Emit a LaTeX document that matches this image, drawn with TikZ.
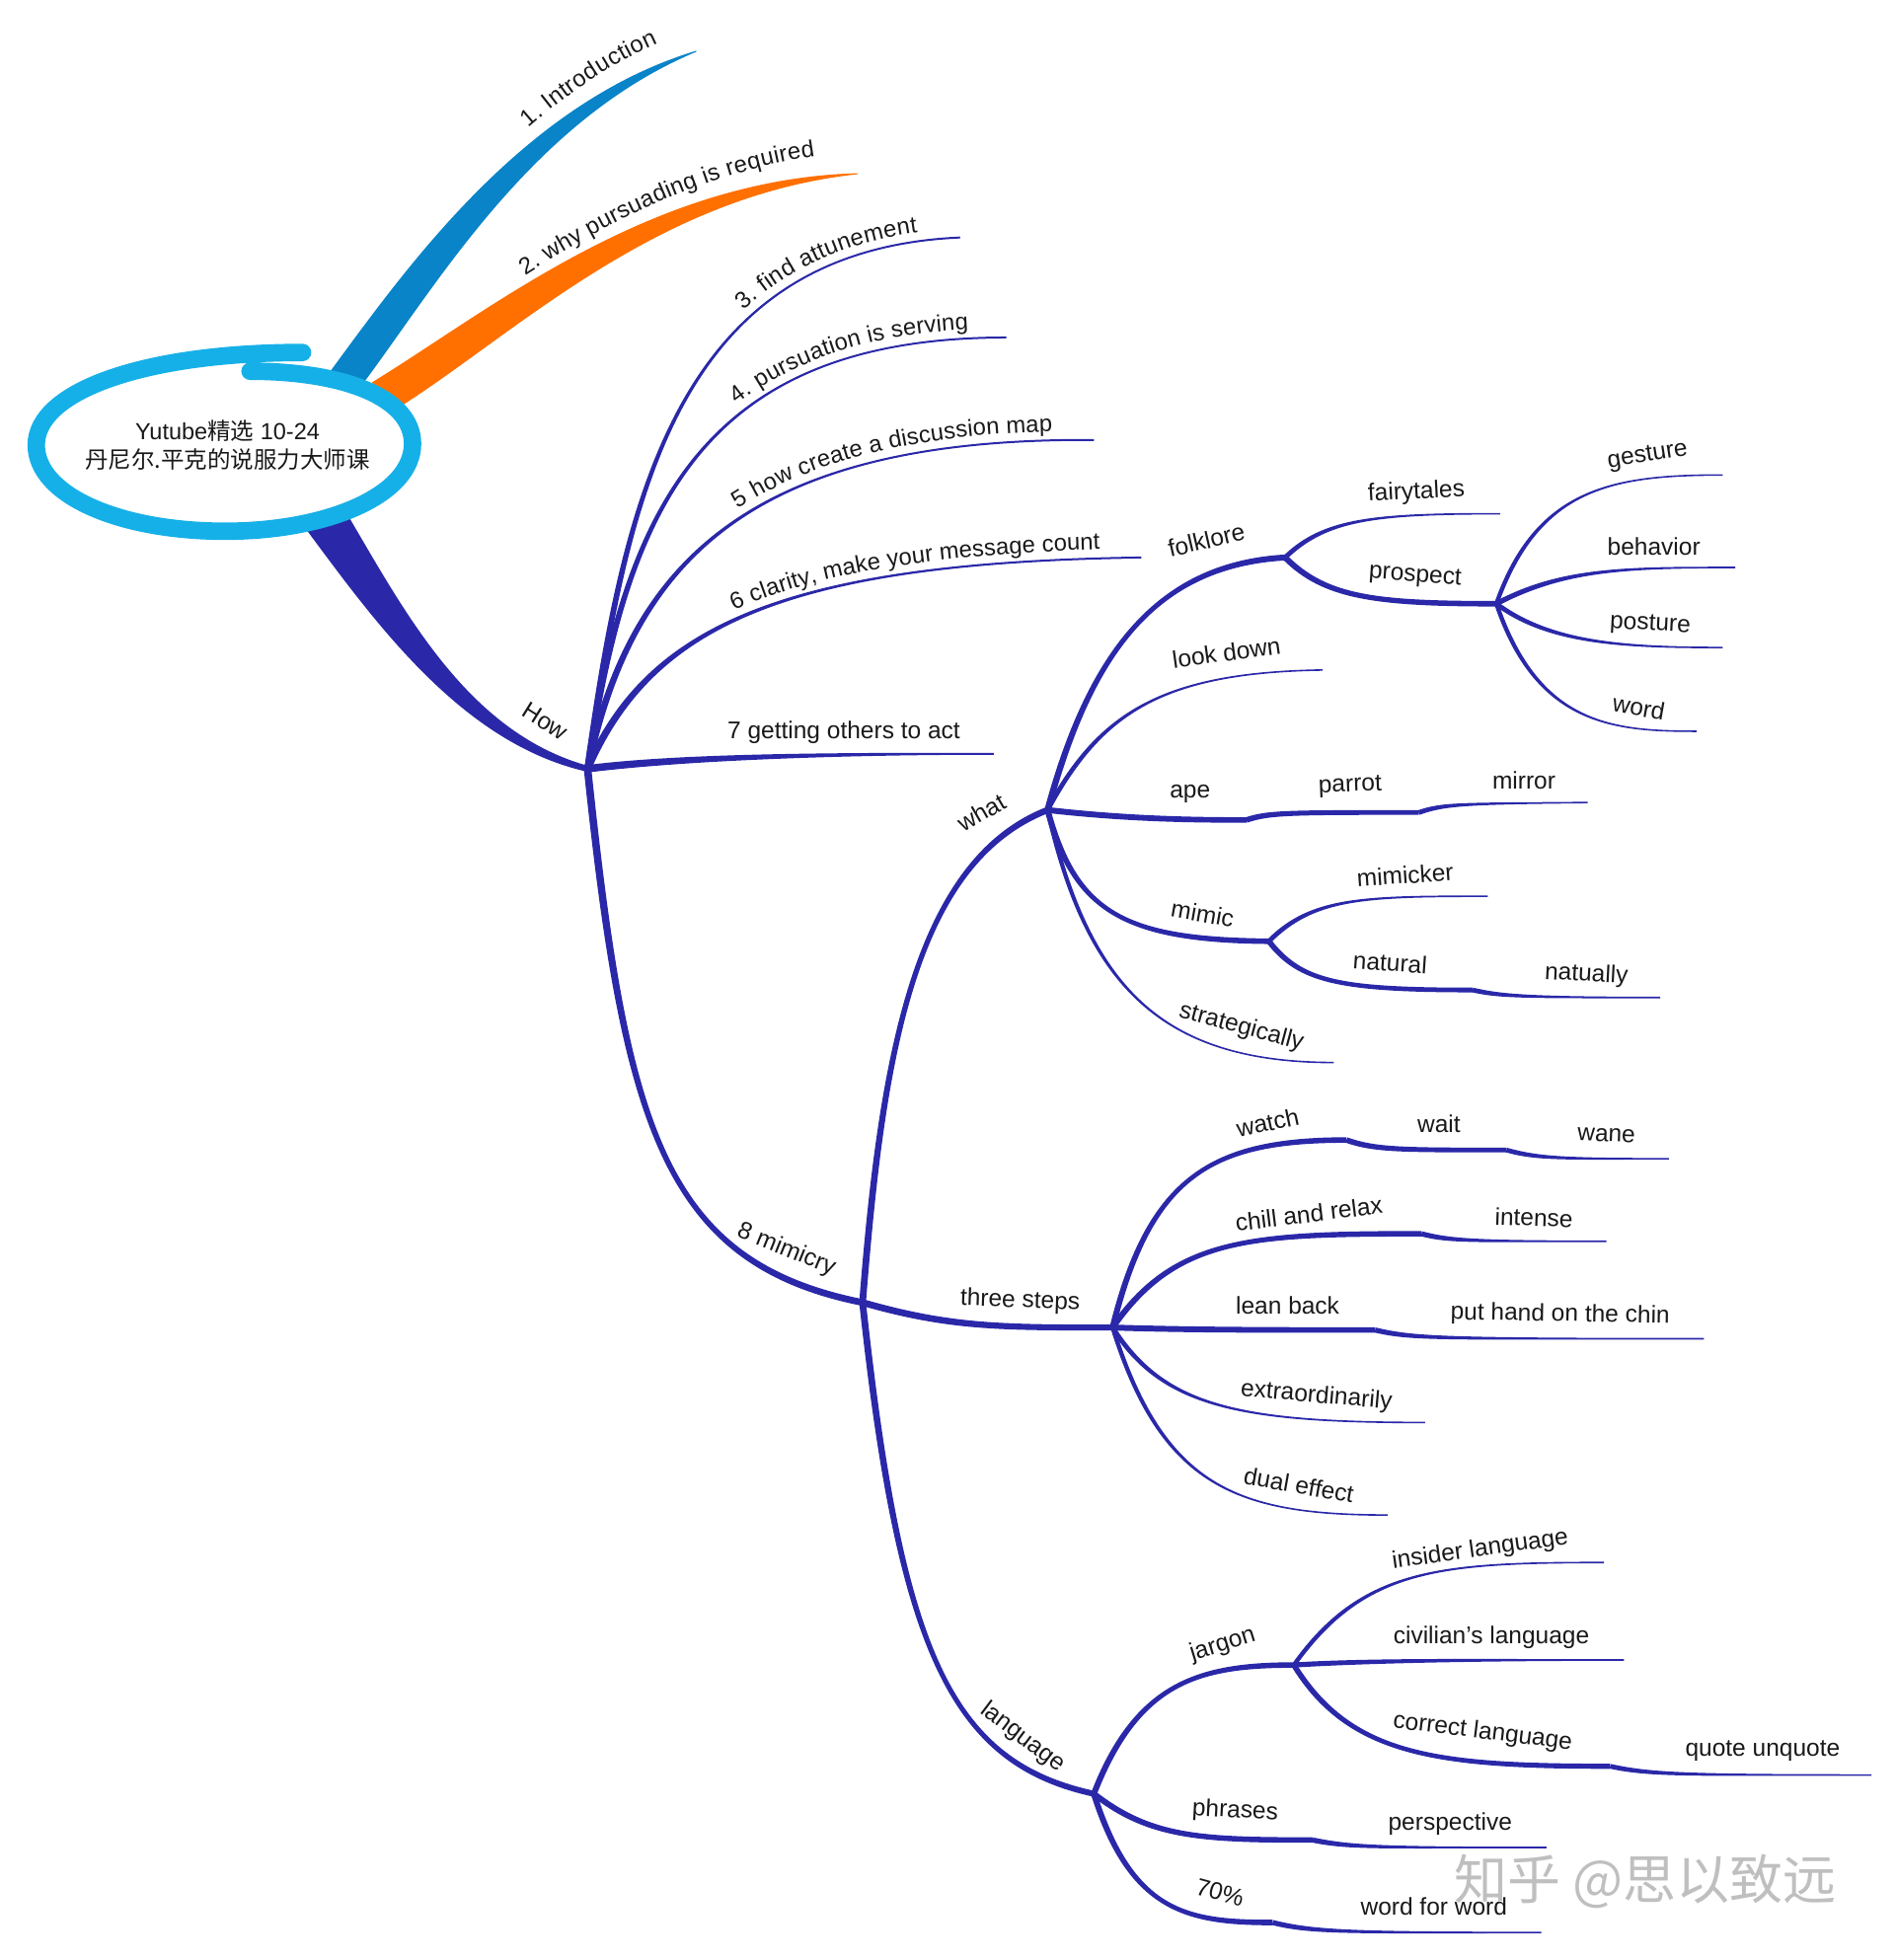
\documentclass[tikz,border=0pt]{standalone}
\usepackage{fontspec}
\setmainfont{Liberation Sans}
\newfontfamily\cjk{Noto Sans CJK SC}
\usetikzlibrary{calc,decorations.text}
\definecolor{dblue}{RGB}{42,40,168}
\definecolor{cblue}{RGB}{10,132,200}
\definecolor{orng}{RGB}{255,112,0}
\definecolor{ringc}{RGB}{22,176,232}
\definecolor{ink}{RGB}{25,25,25}
\definecolor{wmark}{RGB}{180,180,180}
\newcommand\lblfont{\fontsize{24.5}{29}\selectfont}
\newcommand\crvfont{\fontsize{23.8}{29}\selectfont}
% tapered branch: #1 colour, #2 start, #3 ctrl1, #4 ctrl2, #5 end, #6 half width at start, #7 half width at end
\newcommand\tbr[7]{\fill[#1] ($(#2)!#6!90:(#3)$) .. controls ($(#3)!#6!-90:(#2)$) and ($(#4)!#7!90:(#5)$) .. ($(#5)!#7!-90:(#4)$) -- ($(#5)!#7!90:(#4)$) .. controls ($(#4)!#7!-90:(#5)$) and ($(#3)!#6!90:(#2)$) .. ($(#2)!#6!-90:(#3)$) -- cycle;}
% thick tapered branch with half widths at start, both controls and end: #6 #7 #8 #9
\newcommand\tbrx[9]{\fill[#1] ($(#2)!#6!90:(#3)$) .. controls ($(#3)!#7!-90:(#2)$) and ($(#4)!#8!90:(#5)$) .. ($(#5)!#9!-90:(#4)$) -- ($(#5)!#9!90:(#4)$) .. controls ($(#4)!#8!-90:(#5)$) and ($(#3)!#7!90:(#2)$) .. ($(#2)!#6!-90:(#3)$) -- cycle;}
\begin{document}
\begin{tikzpicture}[x=1.2665pt,y=-1.2665pt,
  lbl/.style={font=\lblfont, text=ink, inner sep=0pt},
  curvlbl/.style={decorate, decoration={text along path, text={|\crvfont\color{ink}|#1}}}]
\useasboundingbox (0,0) rectangle (1516,1568);
% ---------- coordinates ----------
\coordinate (b1s) at (275,305); \coordinate (b1e) at (557,41);
\coordinate (b2s) at (305,318); \coordinate (b2e) at (686,139);
\coordinate (hs) at (258,412);  \coordinate (how) at (470,615);
\coordinate (e3) at (768,190); \coordinate (e4) at (805,270);
\coordinate (e5) at (875,352); \coordinate (e6) at (913,446);
\coordinate (e7) at (795,603);
\coordinate (mim) at (690,1042);
\coordinate (what) at (838,648); \coordinate (three) at (890,1062); \coordinate (lang) at (875,1435);
\coordinate (folk) at (1028,446); \coordinate (fairy) at (1200,411); \coordinate (prosp) at (1197,483);
\coordinate (gest) at (1378,380); \coordinate (behav) at (1388,454);
\coordinate (post) at (1378,518); \coordinate (word) at (1357,585);
\coordinate (look) at (1058,536);
\coordinate (ape) at (997,656); \coordinate (parrot) at (1135,650); \coordinate (mirror) at (1270,642);
\coordinate (mimic) at (1015,753); \coordinate (mimicker) at (1190,717);
\coordinate (natural) at (1178,792); \coordinate (natually) at (1328,798);
\coordinate (strat) at (1067,850);
\coordinate (watch) at (1077,912); \coordinate (wait) at (1205,920); \coordinate (wane) at (1335,927);
\coordinate (chill) at (1137,987); \coordinate (intense) at (1285,993);
\coordinate (lean) at (1100,1064); \coordinate (chin) at (1363,1071);
\coordinate (extra) at (1140,1138); \coordinate (dual) at (1110,1212);
\coordinate (jargon) at (1035,1332); \coordinate (insider) at (1283,1250);
\coordinate (civil) at (1299,1328); \coordinate (correct) at (1288,1413); \coordinate (quote) at (1497,1420);
\coordinate (phrases) at (1050,1472); \coordinate (persp) at (1237,1478);
\coordinate (seventy) at (1018,1538); \coordinate (wfw) at (1233,1546);
% ---------- main branches ----------
\tbrx{cblue}{b1s}{335,225}{420,90}{b1e}{17pt}{18pt}{10pt}{0.5pt}
\tbrx{orng}{b2s}{400,260}{520,150}{b2e}{18pt}{18pt}{9pt}{0.5pt}
\tbrx{dblue}{hs}{310,490}{370,590}{how}{22pt}{16pt}{6pt}{3pt}
% ---------- How ----------
\tbr{dblue}{how}{500,400}{540,200}{e3}{3.2pt}{1pt}
\tbr{dblue}{how}{500,410}{560,270}{e4}{3.2pt}{1pt}
\tbr{dblue}{how}{505,450}{600,350}{e5}{3.4pt}{1pt}
\tbr{dblue}{how}{520,500}{630,450}{e6}{3.6pt}{1pt}
\tbr{dblue}{how}{550,605}{680,603}{e7}{3.8pt}{1pt}
\tbr{dblue}{how}{500,900}{530,1010}{mim}{3.8pt}{3.4pt}
% ---------- mimicry ----------
\tbr{dblue}{mim}{705,850}{730,690}{what}{3.4pt}{3.2pt}
\tbr{dblue}{mim}{760,1062}{800,1062}{three}{3.4pt}{3pt}
\tbr{dblue}{mim}{720,1320}{760,1410}{lang}{3.4pt}{3pt}
% ---------- what ----------
\tbr{dblue}{what}{870,530}{920,452}{folk}{3.2pt}{3pt}
\tbr{dblue}{folk}{1060,415}{1100,411}{fairy}{2.4pt}{0.8pt}
\tbr{dblue}{folk}{1060,478}{1100,483}{prosp}{3pt}{2.8pt}
\tbr{dblue}{prosp}{1230,390}{1290,380}{gest}{2.2pt}{0.8pt}
\tbr{dblue}{prosp}{1250,455}{1300,454}{behav}{2.6pt}{0.8pt}
\tbr{dblue}{prosp}{1240,515}{1300,518}{post}{2.4pt}{0.8pt}
\tbr{dblue}{prosp}{1230,580}{1290,585}{word}{2.2pt}{0.8pt}
\tbr{dblue}{what}{880,570}{930,538}{look}{2.4pt}{0.8pt}
\tbr{dblue}{what}{900,655}{950,656}{ape}{3pt}{2.8pt}
\tbr{dblue}{ape}{1015,650}{1030,650}{parrot}{2.8pt}{2.4pt}
\tbr{dblue}{parrot}{1155,643}{1170,643}{mirror}{2.4pt}{0.8pt}
\tbr{dblue}{what}{860,730}{900,752}{mimic}{3pt}{2.8pt}
\tbr{dblue}{mimic}{1050,718}{1090,717}{mimicker}{2.4pt}{0.8pt}
\tbr{dblue}{mimic}{1040,785}{1070,792}{natural}{2.8pt}{2.4pt}
\tbr{dblue}{natural}{1200,797}{1220,798}{natually}{2.4pt}{0.8pt}
\tbr{dblue}{what}{870,790}{930,850}{strat}{2.2pt}{0.8pt}
% ---------- three steps ----------
\tbr{dblue}{three}{920,940}{970,912}{watch}{3pt}{2.8pt}
\tbr{dblue}{watch}{1100,920}{1120,920}{wait}{2.8pt}{2.4pt}
\tbr{dblue}{wait}{1230,927}{1250,927}{wane}{2.4pt}{0.8pt}
\tbr{dblue}{three}{940,990}{1000,987}{chill}{3pt}{2.8pt}
\tbr{dblue}{chill}{1160,993}{1180,993}{intense}{2.6pt}{0.8pt}
\tbr{dblue}{three}{950,1064}{1020,1064}{lean}{3pt}{2.8pt}
\tbr{dblue}{lean}{1130,1071}{1150,1071}{chin}{2.6pt}{0.8pt}
\tbr{dblue}{three}{930,1125}{990,1138}{extra}{2.4pt}{0.8pt}
\tbr{dblue}{three}{930,1190}{990,1212}{dual}{2.2pt}{0.8pt}
% ---------- language ----------
\tbr{dblue}{lang}{910,1345}{960,1332}{jargon}{3pt}{2.8pt}
\tbr{dblue}{jargon}{1090,1255}{1150,1250}{insider}{2.2pt}{0.8pt}
\tbr{dblue}{jargon}{1100,1328}{1200,1328}{civil}{2.6pt}{0.8pt}
\tbr{dblue}{jargon}{1080,1405}{1150,1413}{correct}{2.8pt}{2.6pt}
\tbr{dblue}{correct}{1320,1420}{1350,1420}{quote}{2.4pt}{0.8pt}
\tbr{dblue}{lang}{920,1470}{960,1472}{phrases}{3pt}{2.8pt}
\tbr{dblue}{phrases}{1080,1478}{1100,1478}{persp}{2.6pt}{0.8pt}
\tbr{dblue}{lang}{905,1530}{950,1538}{seventy}{3pt}{2.8pt}
\tbr{dblue}{seventy}{1050,1546}{1080,1546}{wfw}{2.6pt}{0.8pt}
% ---------- central topic ----------
\fill[white] (180,354) ellipse [x radius=146, y radius=66];
\draw[ringc, line width=17.7pt, line cap=round]
  (200,297) .. controls (275,297) and (330,318) .. (330,355)
  .. controls (330,396) and (262,425) .. (180,425)
  .. controls (95,425) and (29,396) .. (29,356)
  .. controls (29,313) and (115,282) .. (242,282);
\node[font=\fontsize{23.5}{29}\selectfont, text=ink, align=center, inner sep=0pt] (title) at (182,356)
  {Yutube{\cjk 精选} 10-24\\{\cjk 丹尼尔.平克的说服力大师课}};
% ---------- curved labels ----------
\path[curvlbl={1. Introduction}, decoration={text align={right, right indent=32pt}, raise=22pt}]
  (b1s) .. controls (335,225) and (420,90) .. (b1e);
\path[curvlbl={2. why pursuading is required}, decoration={text align={right, right indent=40pt}, raise=22pt}]
  (b2s) .. controls (400,260) and (520,150) .. (b2e);
\path[curvlbl={3. find attunement}, decoration={text align={right, right indent=42pt}, raise=9pt}]
  (how) .. controls (500,400) and (540,200) .. (e3);
\path[curvlbl={4. pursuation is serving}, decoration={text align={right, right indent=38pt}, raise=9pt}]
  (how) .. controls (500,410) and (560,270) .. (e4);
\path[curvlbl={5 how create a discussion map}, decoration={text align={right, right indent=42pt}, raise=9pt}]
  (how) .. controls (505,450) and (600,350) .. (e5);
\path[curvlbl={6 clarity{,} make your message count}, decoration={text align={right, right indent=42pt}, raise=9pt}]
  (how) .. controls (520,500) and (630,450) .. (e6);
% ---------- straight labels ----------
\node[lbl, rotate=-32] (tHow) at (436,577) {How};
\node[lbl] (t7) at (675,586) {7 getting others to act};
\node[lbl, rotate=-22] (t8) at (629,1000) {8 mimicry};
\node[lbl, rotate=30] (tWhat) at (785,650) {what};
\node[lbl, rotate=-2] (tThree) at (816,1041) {three steps};
\node[lbl, rotate=-37] (tLang) at (818,1390) {language};
\node[lbl, rotate=13] (tFolk) at (965,432) {folklore};
\node[lbl, rotate=3] (tFairy) at (1133,394) {fairytales};
\node[lbl, rotate=-4] (tProsp) at (1132,461) {prospect};
\node[lbl, rotate=9] (tGest) at (1318,365) {gesture};
\node[lbl] (tBehav) at (1323,437) {behavior};
\node[lbl, rotate=-3] (tPost) at (1320,500) {posture};
\node[lbl, rotate=-10] (tWord) at (1311,566) {word};
\node[lbl, rotate=8] (tLook) at (981,522) {look down};
\node[lbl] (tApe) at (952,635) {ape};
\node[lbl, rotate=2] (tParrot) at (1080,629) {parrot};
\node[lbl] (tMirror) at (1219,624) {mirror};
\node[lbl, rotate=-10] (tMimic) at (962,731) {mimic};
\node[lbl, rotate=4] (tMimicker) at (1124,700) {mimicker};
\node[lbl, rotate=-4] (tNatural) at (1112,770) {natural};
\node[lbl, rotate=-3] (tNatually) at (1269,780) {natually};
\node[lbl, rotate=-15] (tStrat) at (993,822) {strategically};
\node[lbl, rotate=12] (tWatch) at (1014,898) {watch};
\node[lbl] (tWait) at (1151,899) {wait};
\node[lbl, rotate=-2] (tWane) at (1285,908) {wane};
\node[lbl, rotate=7] (tChill) at (1047,971) {chill and relax};
\node[lbl, rotate=-2] (tIntense) at (1227,974) {intense};
\node[lbl] (tLean) at (1030,1044) {lean back};
\node[lbl, rotate=-1] (tChin) at (1248,1052) {put hand on the chin};
\node[lbl, rotate=-5] (tExtra) at (1053,1117) {extraordinarily};
\node[lbl, rotate=-10] (tDual) at (1039,1188) {dual effect};
\node[lbl, rotate=17] (tJargon) at (978,1316) {jargon};
\node[lbl, rotate=8] (tInsider) at (1184,1240) {insider language};
\node[lbl] (tCivil) at (1193,1310) {civilian's language};
\node[lbl, rotate=-7] (tCorrect) at (1186,1386) {correct language};
\node[lbl] (tQuote) at (1410,1401) {quote unquote};
\node[lbl, rotate=-3] (tPhrases) at (988,1449) {phrases};
\node[lbl] (tPersp) at (1160,1459) {perspective};
\node[lbl, rotate=-15] (tSeventy) at (976,1514) {70\%};
\node[lbl] (tWfw) at (1147,1525) {word for word};
% ---------- watermark ----------
\node[font=\cjk\fontsize{54}{60}\selectfont, text=wmark, opacity=0.85, inner sep=0pt] (wm) at (1316,1505) {知乎 @思以致远};
\end{tikzpicture}
\end{document}
